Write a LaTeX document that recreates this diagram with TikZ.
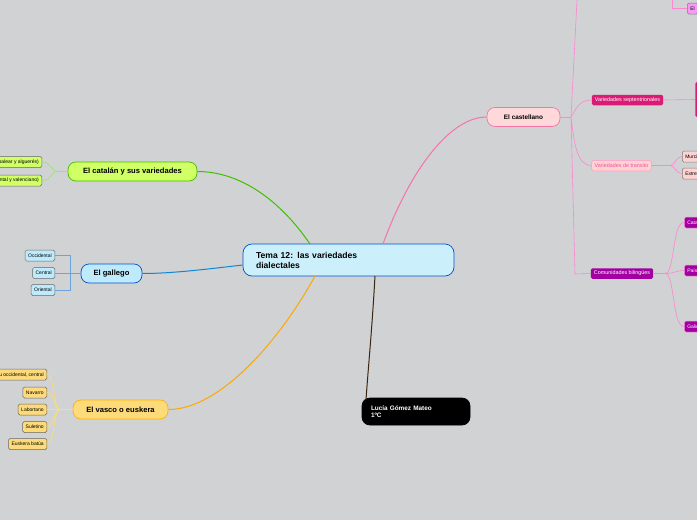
\documentclass[tikz,border=0pt]{standalone}
\usepackage{fontspec}
\setmainfont{Liberation Sans}
\usetikzlibrary{positioning}
\definecolor{bg}{HTML}{D1D2D4}
\begin{document}
\begin{tikzpicture}[x=1pt,y=-1pt,
 box/.style={draw,rounded corners=5pt,line width=0.7pt,font=\bfseries\fontsize{7.6}{8}\selectfont,inner sep=0pt,minimum height=19pt},
 leaf/.style={draw=gray!80!black,rounded corners=1.5pt,line width=0.5pt,font=\fontsize{5}{5}\selectfont,inner sep=0pt,minimum height=11pt,text height=4pt,inner xsep=3pt},
 sub/.style={rounded corners=1.5pt,line width=0.5pt,font=\fontsize{5.4}{6}\selectfont,inner xsep=3pt,inner ysep=0pt,minimum height=10.5pt}]
\useasboundingbox[fill=bg] (0,0) rectangle (697,520);
% central
\node[box,draw=blue!60!cyan!80!black,fill=cyan!20,minimum width=211pt,minimum height=32pt,rounded corners=9pt,font=\bfseries\fontsize{8.6}{10}\selectfont,align=left,text width=185pt] (c) at (348.5,260) {Tema 12: las variedades\\dialectales};
% catalan
\node[box,draw=green!50!olive,fill=green!30!yellow!60!white,minimum width=129pt,rounded corners=8pt] (cat) at (132.5,171.5) {El catalán y sus variedades};
\node[leaf,fill=green!30!yellow!60!white,anchor=east] (cat1) at (42,162) {Catalán oriental (central, balear y alguerés)};
\node[leaf,fill=green!30!yellow!60!white,anchor=east] (cat2) at (42,180.5) {Catalán occidental (noroccidental y valenciano)};
\draw[green!50!olive!50!white,line width=0.6pt] (cat.west) -- (58,171.5) .. controls (50,171.5) and (52,162) .. (cat1.east);
\draw[green!50!olive!50!white,line width=0.6pt] (58,171.5) .. controls (50,171.5) and (52,180.5) .. (cat2.east);
\draw[green!50!olive,line width=1pt] (310,244) .. controls (280,200) and (240,171.5) .. (cat.east);
% gallego
\node[box,draw=blue!60!cyan!80!black,fill=cyan!25,minimum width=61pt,rounded corners=8pt] (gal) at (111.5,273.5) {El gallego};
\node[leaf,fill=cyan!25,anchor=east] (g1) at (55,255.5) {Occidental};
\node[leaf,fill=cyan!25,anchor=east] (g2) at (55,273) {Central};
\node[leaf,fill=cyan!25,anchor=east] (g3) at (55,290) {Oriental};
\draw[cyan!60!blue!60!white,line width=0.6pt] (gal.west) -- (70,273.5) (g1.east) -| (70,290) -- (g3.east) (g2.east) -- (70,273);
\draw[cyan!70!blue,line width=1pt] (c.west|-0,265) .. controls (200,270) and (170,273.5) .. (gal.east);
% vasco
\node[box,draw=orange!60!yellow,fill=yellow!50!orange!50!white,minimum width=95pt,rounded corners=8pt] (vas) at (120.5,409.5) {El vasco o euskera};
\node[leaf,fill=yellow!50!orange!50!white,anchor=east] (v1) at (47,374.5) {Vizcaíno u occidental, central};
\node[leaf,fill=yellow!50!orange!50!white,anchor=east] (v2) at (47,392.5) {Navarro};
\node[leaf,fill=yellow!50!orange!50!white,anchor=east] (v3) at (47,409.5) {Labortano};
\node[leaf,fill=yellow!50!orange!50!white,anchor=east] (v4) at (47,427) {Suletino};
\node[leaf,fill=yellow!50!orange!50!white,anchor=east] (v5) at (47,444) {Euskera batúa};
\draw[orange!40!yellow!60!white,line width=0.6pt] (vas.west) -- (60,409.5);
\foreach \n in {v1,v2,v3,v4,v5}{\draw[orange!40!yellow!60!white,line width=0.6pt] (60,409.5) .. controls (53,409.5) and (55,0|-\n.east) .. (\n.east);}
\draw[orange!70!yellow,line width=1pt] (315,276) .. controls (280,340) and (220,409.5) .. (vas.east);
% Lucia
\node[box,draw=black,fill=black,text=white,minimum width=108pt,minimum height=27pt,rounded corners=8pt,align=left,text width=90pt,font=\bfseries\fontsize{6.4}{7.5}\selectfont] (lu) at (416,411.5) {Lucía Gómez Mateo\\1ºC};
\draw[black!70!brown,line width=1pt] (375,276) .. controls (372,330) and (368,370) .. (366,400);
% castellano
\node[box,draw=magenta!40!pink,fill=pink!60!white,minimum width=73pt,rounded corners=8pt,font=\bfseries\fontsize{6.4}{7}\selectfont] (cas) at (523.5,117) {El castellano};
\draw[magenta!40!pink,line width=1pt] (383,244) .. controls (410,170) and (450,117) .. (cas.west);
\node[sub,fill=magenta!80!red!90!black,text=white] (s1) at (627.5,100) {Variedades septentrionales};
\node[sub,draw=pink!80!magenta,fill=pink!70!white,text=magenta!60!pink] (s2) at (621.5,165.5) {Variedades de transito};
\node[sub,fill=violet!40!magenta!80!black,text=white] (s3) at (622,273.5) {Comunidades bilingües};
\draw[pink!70!magenta,line width=0.6pt] (cas.east) -- (571,117);
\draw[pink!70!magenta,line width=0.6pt] (577,0) -- (571,117) -- (575,274) -- (s3.west) (571,117) .. controls (576,110) and (578,100) .. (s1.west) (571,117) .. controls (574,140) and (576,165.5) .. (s2.west);
% far right
\node[sub,anchor=west,fill=magenta!80!red!90!black,minimum height=35pt,minimum width=10pt] (big) at (695,99.5) {};
\draw[pink!70!magenta,line width=0.6pt] (s1.east) -- (big.west);
\node[leaf,draw=gray,fill=pink!70!white,anchor=west] (m1) at (682,156.5) {Murcia};
\node[leaf,draw=gray,fill=pink!70!white,anchor=west] (m2) at (682,173.5) {Extremadura};
\draw[pink!70!magenta,line width=0.6pt] (s2.east) -- (670,165.5) .. controls (675,165.5) and (676,156.5) .. (m1.west) (670,165.5) .. controls (675,165.5) and (676,173.5) .. (m2.west);
\node[leaf,draw=magenta!40,fill=violet!40!magenta!80!black,text=white,anchor=west] (b1) at (684,222.5) {Cataluña};
\node[leaf,draw=magenta!40,fill=violet!40!magenta!80!black,text=white,anchor=west] (b2) at (684,270.5) {País Vasco};
\node[leaf,draw=magenta!40,fill=violet!40!magenta!80!black,text=white,anchor=west] (b3) at (684,326.5) {Galicia};
\draw[pink!70!magenta,line width=0.6pt] (s3.east) -- (665,273.5)
 .. controls (675,273.5) and (672,222.5) .. (b1.west)
 (665,273.5) .. controls (675,273.5) and (676,270.5) .. (b2.west)
 (665,273.5) .. controls (675,273.5) and (672,326.5) .. (b3.west);
\node[leaf,draw=gray,fill=violet!20!magenta!40!white,anchor=west] (e1) at (687,8.5) {El};
\draw[pink!70!magenta,line width=0.6pt] (672,0) -- (672,8.5) -- (e1.west);
\end{tikzpicture}
\end{document}
